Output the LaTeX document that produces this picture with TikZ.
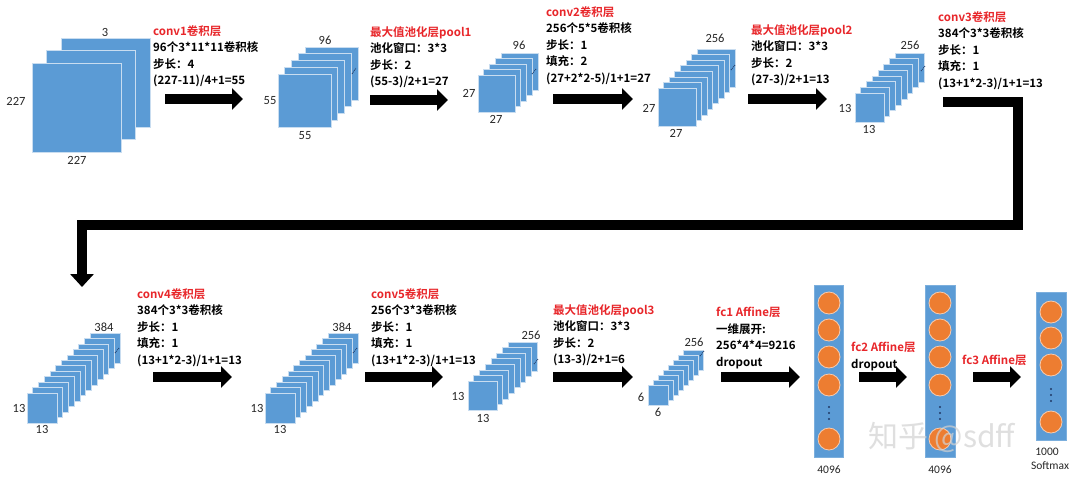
\documentclass[tikz,border=0pt]{standalone}
\usepackage{fontspec}
\newfontfamily\cjkb{Noto Sans CJK SC}[UprightFont=* Bold]
\newfontfamily\cjkl{Noto Sans CJK SC}
\newfontfamily\calf{Carlito}
\usetikzlibrary{arrows.meta}
\definecolor{layerblue}{HTML}{5B9BD5}
\definecolor{layeredge}{HTML}{C9DDF0}
\definecolor{neuron}{HTML}{ED7D31}
\definecolor{neuronedge}{HTML}{F8CBAD}
\definecolor{titlered}{HTML}{E8262A}
\definecolor{dotblue}{HTML}{1F3864}
\definecolor{dimtext}{HTML}{262626}
\tikzset{
  layer/.style={draw=layeredge, line width=0.6pt, fill=layerblue, inner sep=0pt, outer sep=0pt, anchor=north west},
  dim/.style={font=\calf\fontsize{12.5}{13}\selectfont, text=dimtext, inner sep=0pt},
  dimsmall/.style={font=\calf\fontsize{11.5}{12}\selectfont, text=dimtext, inner sep=0pt},
  info/.style={font=\cjkb\fontsize{11.5}{16.5}\selectfont, align=left, anchor=north west, inner sep=0pt},
  blockarrow/.style={line width=10pt, -{Triangle[length=11pt,width=21pt]}},
  elbowarrow/.style={line width=10pt, line join=miter, -{Triangle[length=13pt,width=23pt]}},
  column/.style={fill=layerblue, draw=layerblue!80!white, line width=0.5pt, inner sep=0pt},
  neuronnode/.style={circle, fill=neuron, draw=neuronedge, line width=0.8pt, minimum size=22pt, inner sep=0pt},
  tick/.style={draw=dotblue, line width=0.8pt, dash pattern=on 1pt off 0.8pt},
  vdot/.style={circle, fill=dotblue, minimum size=2.4pt, inner sep=0pt},
}
\newcommand\fmstack[7]{% name, front x, front y, size, layers, dx, dy
  \foreach \i in {#5,...,1}{%
    \pgfmathsetmacro\kx{#2+(\i-1)*#6}%
    \pgfmathsetmacro\ky{#3+(\i-1)*#7}%
    \node[layer, minimum size=#4pt] (#1-\i) at (\kx,\ky) {};
  }%
}
\begin{document}
\begin{tikzpicture}[x=1pt,y=-1pt]
\useasboundingbox[fill=white] (0,0) rectangle (1080,483);

% ---------- top row stacks ----------
\fmstack{sA}{32}{63}{89}{3}{14.5}{-12.5}
\node[dim] (sA-t) at (105,32) {3};
\node[dim] (sA-l) at (16,101) {227};
\node[dim] (sA-b) at (77,160) {227};

\fmstack{sB}{278}{74}{53}{5}{6.75}{-6.75}
\draw[tick] (352,74) -- (356,68);
\node[dim] (sB-t) at (325,40) {96};
\node[dim] (sB-l) at (270,101) {55};
\node[dim] (sB-b) at (305,136) {55};

\fmstack{sC}{478}{75}{37}{5}{5.75}{-5.5}
\draw[tick] (532,74) -- (536,69);
\node[dim] (sC-t) at (519,45) {96};
\node[dim] (sC-l) at (469,93) {27};
\node[dim] (sC-b) at (496,119) {27};

\fmstack{sD}{658}{88}{38}{8}{5.57}{-5.57}
\draw[tick] (731,70) -- (735,65);
\node[dim] (sD-t) at (715,38) {256};
\node[dim] (sD-l) at (649,108) {27};
\node[dim] (sD-b) at (676,133) {27};

\fmstack{sE}{855}{93}{29}{8}{5.71}{-5.71}
\draw[tick] (921,71) -- (925,66);
\node[dim] (sE-t) at (910,45) {256};
\node[dim] (sE-l) at (845,108) {13};
\node[dim] (sE-b) at (869,129) {13};

% ---------- bottom row stacks ----------
\fmstack{sF}{27}{393}{30}{12}{5.73}{-5.45}
\draw[tick] (115,353) -- (119,348);
\node[dim] (sF-t) at (104,327) {384};
\node[dim] (sF-l) at (19,408) {13};
\node[dim] (sF-b) at (42,429) {13};

\fmstack{sG}{265}{393}{30}{12}{5.73}{-5.45}
\draw[tick] (353,353) -- (357,348);
\node[dim] (sG-t) at (342,327) {384};
\node[dim] (sG-l) at (257,408) {13};
\node[dim] (sG-b) at (280,429) {13};

\fmstack{sH}{468}{381}{29}{8}{5.71}{-5.57}
\draw[tick] (534,364) -- (538,359);
\node[dim] (sH-t) at (531,335) {256};
\node[dim] (sH-l) at (458,396) {13};
\node[dim] (sH-b) at (483,418) {13};

\fmstack{sI}{648}{385}{20}{8}{5}{-5}
\draw[tick] (700,356) -- (704,351);
\node[dim] (sI-t) at (694,342) {256};
\node[dim] (sI-l) at (641,397) {6};
\node[dim] (sI-b) at (658,412) {6};

% ---------- fully connected columns ----------
\node[column, minimum width=29pt, minimum height=172pt] (fcA) at (828.5,371) {};
\foreach \yy [count=\j] in {303,330,357,385,439}{\node[neuronnode] (fcA-n\j) at (829,\yy) {};}
\foreach \yy [count=\j] in {407,413,419}{\node[vdot] (fcA-d\j) at (829,\yy) {};}
\node[dimsmall] (fcA-lab) at (829,470) {4096};

\node[column, minimum width=30pt, minimum height=172pt] (fcB) at (940,371) {};
\foreach \yy [count=\j] in {303,330,357,385,439}{\node[neuronnode] (fcB-n\j) at (940,\yy) {};}
\foreach \yy [count=\j] in {407,413,419}{\node[vdot] (fcB-d\j) at (940,\yy) {};}
\node[dimsmall] (fcB-lab) at (940,470) {4096};

\node[column, minimum width=30pt, minimum height=148pt] (fcC) at (1051,366) {};
\foreach \yy [count=\j] in {312,338,365,422}{\node[neuronnode] (fcC-n\j) at (1051,\yy) {};}
\foreach \yy [count=\j] in {389,395,401}{\node[vdot] (fcC-d\j) at (1051,\yy) {};}
\node[dimsmall] (fcC-lab) at (1047,452) {1000};
\node[dimsmall] (fcC-sm) at (1050,466) {Softmax};

% ---------- text blocks ----------
\node[info] (tA) at (153,25) {\textcolor{titlered}{conv1卷积层}\\96个3*11*11卷积核\\步长：4\\(227-11)/4+1=55};
\node[info] (tB) at (370,26) {\textcolor{titlered}{最大值池化层pool1}\\池化窗口：3*3\\步长：2\\(55-3)/2+1=27};
\node[info] (tC) at (546,6) {\textcolor{titlered}{conv2卷积层}\\256个5*5卷积核\\步长：1\\填充：2\\(27+2*2-5)/1+1=27};
\node[info] (tD) at (751,24) {\textcolor{titlered}{最大值池化层pool2}\\池化窗口：3*3\\步长：2\\(27-3)/2+1=13};
\node[info] (tE) at (938,11) {\textcolor{titlered}{conv3卷积层}\\384个3*3卷积核\\步长：1\\填充：1\\(13+1*2-3)/1+1=13};
\node[info] (tF) at (137,288) {\textcolor{titlered}{conv4卷积层}\\384个3*3卷积核\\步长：1\\填充：1\\(13+1*2-3)/1+1=13};
\node[info] (tG) at (371,288) {\textcolor{titlered}{conv5卷积层}\\256个3*3卷积核\\步长：1\\填充：1\\(13+1*2-3)/1+1=13};
\node[info] (tH) at (553,304) {\textcolor{titlered}{最大值池化层pool3}\\池化窗口：3*3\\步长：2\\(13-3)/2+1=6};
\node[info] (tI) at (716,307) {\textcolor{titlered}{fc1 Affine层}\\一维展开:\\256*4*4=9216\\dropout};
\node[info] (tJ) at (851,342) {\textcolor{titlered}{fc2 Affine层}\\dropout};
\node[info] (tK) at (962,355) {\textcolor{titlered}{fc3 Affine层}};

% ---------- arrows ----------
\coordinate (a1s) at (165,99);  \coordinate (a1e) at (243,99);
\coordinate (a2s) at (370,100); \coordinate (a2e) at (448,100);
\coordinate (a3s) at (553,99);  \coordinate (a3e) at (633,99);
\coordinate (a4s) at (748,99);  \coordinate (a4e) at (827,99);
\coordinate (a5s) at (943,102); \coordinate (a5c1) at (1018,102);
\coordinate (a5c2) at (1018,225); \coordinate (a5c3) at (82,225);
\coordinate (a5e) at (82,287);
\coordinate (a6s) at (153,377); \coordinate (a6e) at (232,377);
\coordinate (a7s) at (365,377); \coordinate (a7e) at (443,377);
\coordinate (a8s) at (553,377); \coordinate (a8e) at (633,377);
\coordinate (a9s) at (721,377); \coordinate (a9e) at (800,377);
\coordinate (a10s) at (859,377); \coordinate (a10e) at (907,377);
\coordinate (a11s) at (973,377); \coordinate (a11e) at (1021,377);
\draw[blockarrow] (a1s) -- (a1e);
\draw[blockarrow] (a2s) -- (a2e);
\draw[blockarrow] (a3s) -- (a3e);
\draw[blockarrow] (a4s) -- (a4e);
\draw[elbowarrow] (a5s) -- (a5c1) -- (a5c2) -- (a5c3) -- (a5e);
\draw[blockarrow] (a6s) -- (a6e);
\draw[blockarrow] (a7s) -- (a7e);
\draw[blockarrow] (a8s) -- (a8e);
\draw[blockarrow] (a9s) -- (a9e);
\draw[blockarrow] (a10s) -- (a10e);
\draw[blockarrow] (a11s) -- (a11e);

% ---------- watermark ----------
\node[font=\cjkl\fontsize{30}{30}\selectfont, text=gray!35, opacity=0.7, anchor=west, inner sep=0pt] (wm) at (868,437) {知乎 @sdff};
\end{tikzpicture}
\end{document}
